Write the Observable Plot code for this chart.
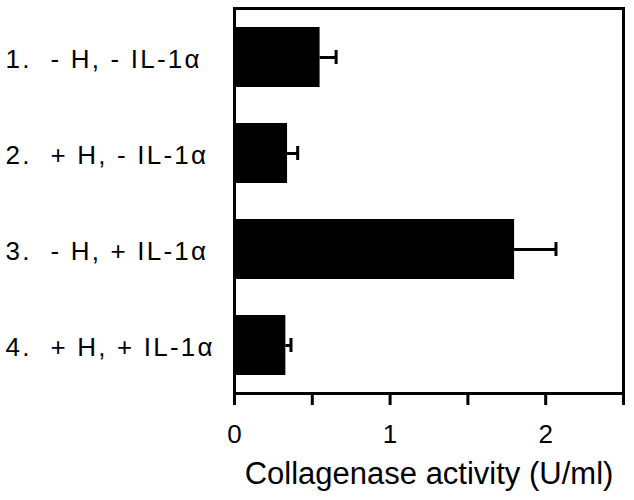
<!DOCTYPE html>
<html>
<head>
<meta charset="utf-8">
<script src="https://cdn.jsdelivr.net/npm/d3@7"></script>
<script src="https://cdn.jsdelivr.net/npm/@observablehq/plot@0.6"></script>
<style>
  html, body { margin: 0; padding: 0; background: #fff; }
</style>
</head>
<body>
<div id="chart"></div>
<script>
const categories = [
  "1.  - H, - IL-1\u03b1",
  "2.  + H, - IL-1\u03b1",
  "3.  - H, + IL-1\u03b1",
  "4.  + H, + IL-1\u03b1"
];
const means = [0.55, 0.341, 1.80, 0.33];
const errors = [0.103, 0.065, 0.266, 0.033];
const tickValues = [0, 0.5, 1, 1.5, 2, 2.5];
const tickLabels = ["0", "", "1", "", "2", ""];
const xTitle = "Collagenase activity (U/ml)";

const rows = categories.map((c, i) => ({label: c, mean: means[i], hi: means[i] + errors[i]}));

const chart = Plot.plot({
  width: 634,
  height: 500,
  marginLeft: 234,
  marginRight: 11,
  marginTop: 8,
  marginBottom: 107,
  style: {fontFamily: "'Liberation Sans', Arial, Helvetica, sans-serif", background: "#fff", color: "#000"},
  x: {domain: [0, 2.5], axis: null},
  y: {domain: categories, axis: null, paddingInner: 0.376, paddingOuter: 0.19},
  marks: [
    Plot.barX(rows, {x: "mean", y: "label", fill: "#000"}),
    Plot.ruleY(rows, {x1: "mean", x2: "hi", y: "label", stroke: "#000", strokeWidth: 3}),
    Plot.tickX(rows, {x: "hi", y: "label", stroke: "#000", strokeWidth: 3, insetTop: 23, insetBottom: 23}),
    Plot.frame({stroke: "#000", strokeWidth: 3}),
    Plot.axisX({
      ticks: tickValues,
      tickFormat: d => tickLabels[tickValues.indexOf(d)],
      tickSize: 12,
      tickPadding: 19,
      strokeWidth: 3,
      fontSize: 26,
      label: null
    }),
    Plot.text(rows, {
      y: "label", text: d => d.label.replace(/ /g, "\u00a0"), frameAnchor: "left", textAnchor: "start",
      dx: -229, dy: 2, fontSize: 26, lineAnchor: "middle", fill: "#000"
    }),
    Plot.text([xTitle], {
      text: d => d, frameAnchor: "bottom", lineAnchor: "bottom",
      dy: 90, fontSize: 31, fill: "#000"
    })
  ]
});
document.getElementById("chart").appendChild(chart);
const labelSet = new Set(categories.map(c => c.replace(/ /g, "\u00a0")));
d3.select(chart).selectAll("text")
  .filter(function() { return labelSet.has(this.textContent); })
  .style("letter-spacing", "2.2px");
</script>
</body>
</html>
